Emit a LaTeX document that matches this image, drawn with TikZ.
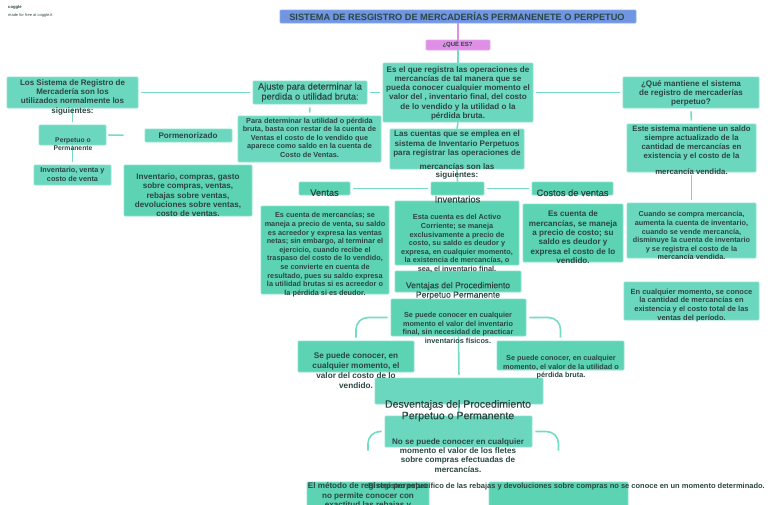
\documentclass[tikz,border=0pt]{standalone}
\usepackage{fontspec}
\setmainfont{Liberation Sans}
\newfontfamily\medio[FakeBold=0.25]{Liberation Sans}
\usepackage{xcolor}
\usetikzlibrary{positioning}
\definecolor{tituloAzul}{HTML}{7095E2}
\definecolor{rosaQue}{HTML}{E08FE6}
\definecolor{cajaClara}{HTML}{6CD7BF}
\definecolor{cajaMedia}{HTML}{5CD3B2}
\definecolor{bordeCaja}{HTML}{8CE3CF}
\definecolor{lineaVerde}{HTML}{72DCC4}
\definecolor{tinta}{HTML}{2C4642}
\tikzset{
    caja/.style={fill=cajaClara, draw=bordeCaja, line width=0.6pt, inner sep=0pt, rounded corners=0.8pt},
    cajam/.style={caja, fill=cajaMedia},
    liga/.style={lineaVerde, line width=1.6pt, shorten >=3pt, shorten <=3pt},
    txtA/.style={text=tinta, align=center, inner sep=0pt, yshift=-1.2pt, font=\medio\fontsize{9.3}{10}\selectfont},
    txtB/.style={text=tinta, align=center, inner sep=0pt, yshift=-1.2pt, font=\bfseries\fontsize{8.1}{9.3}\selectfont},
    txtC/.style={text=tinta, align=center, inner sep=0pt, yshift=-1.2pt, font=\bfseries\fontsize{7.3}{8.6}\selectfont},
}
\begin{document}
\begin{tikzpicture}[x=1pt,y=-1pt]
    \useasboundingbox (0,0) rectangle (768,504);
    % Cabecera
    \node[caja, fill=tituloAzul, draw=tituloAzul!80!white, minimum width=356pt, minimum height=13pt] (titulo) at (458,16.5) {};
    \node[caja, fill=rosaQue, draw=rosaQue!80!white, minimum width=64pt, minimum height=10pt] (que) at (458,45) {};

    % Columna izquierda
    \node[caja, minimum width=131pt, minimum height=31pt] (losSistema) at (72.5,92.5) {};
    \node[caja, minimum width=67pt, minimum height=20pt] (perpetuo) at (72.5,135) {};
    \node[caja, minimum width=87pt, minimum height=13pt] (pormenor) at (188.5,135.5) {};
    \node[caja, minimum width=77pt, minimum height=20pt] (invVenta) at (72.5,175) {};
    \node[cajam, minimum width=128pt, minimum height=51pt] (invCompras) at (188,190.5) {};

    % Columna central
    \node[caja, minimum width=114pt, minimum height=23pt] (ajuste) at (310,92.5) {};
    \node[caja, minimum width=143pt, minimum height=46pt] (paraDet) at (309.5,139) {};
    \node[caja, minimum width=150pt, minimum height=59pt] (esElQue) at (458,92.5) {};
    \node[caja, minimum width=134pt, minimum height=40pt] (lasCuentas) at (457,149) {};
    \node[cajam, minimum width=51pt, minimum height=13pt] (ventas) at (324.5,188.5) {};
    \node[cajam, minimum width=53pt, minimum height=13pt] (inventarios) at (457.5,188.5) {};
    \node[cajam, minimum width=81pt, minimum height=13pt] (costos) at (572.5,188.5) {};
    \node[cajam, minimum width=128pt, minimum height=88pt] (ctaVentas) at (325,250) {};
    \node[cajam, minimum width=124pt, minimum height=64pt] (ctaInv) at (457,233) {};
    \node[cajam, minimum width=100pt, minimum height=58pt] (ctaCostos) at (573,233) {};
    \node[cajam, minimum width=126pt, minimum height=21pt] (ventajas) at (458,281.5) {};
    \node[cajam, minimum width=135pt, minimum height=37pt] (sePuede) at (458.5,317.5) {};
    \node[cajam, minimum width=116pt, minimum height=31pt] (seIzq) at (356,356.5) {};
    \node[cajam, minimum width=127pt, minimum height=29pt] (seDer) at (560.5,355.5) {};
    \node[caja, minimum width=168pt, minimum height=26pt] (desventajas) at (459,391) {};
    \node[caja, minimum width=147pt, minimum height=31pt] (noSe) at (458.5,431.5) {};
    \node[cajam, minimum width=122pt, minimum height=30pt] (metodo) at (368,497) {};
    \node[cajam, minimum width=139pt, minimum height=30pt] (rebajas) at (558.5,497) {};

    % Columna derecha
    \node[caja, minimum width=136pt, minimum height=31pt] (mantiene) at (691,92.5) {};
    \node[caja, minimum width=129pt, minimum height=48pt] (saldo) at (691.5,148) {};
    \node[caja, minimum width=129pt, minimum height=55pt] (cuando) at (691.5,230.5) {};
    \node[caja, minimum width=135pt, minimum height=38pt] (enCualquier) at (691.5,301) {};

    % Conectores
    \draw[rosaQue, line width=1.8pt] (titulo.south) -- (que.north);
    \draw[liga, shorten <=0pt, shorten >=0pt] (que.south) -- (esElQue.north);
    \draw[liga] (losSistema.east) -- (ajuste.west);
    \draw[liga] (ajuste.east) -- (esElQue.west);
    \draw[liga] (esElQue.east) -- (mantiene.west);
    \draw[liga] (ajuste.south) -- (paraDet.north);
    \draw[liga, shorten <=0pt, shorten >=0pt] (esElQue.south) -- (lasCuentas.north);
    \draw[liga, shorten <=0pt, shorten >=0pt] (lasCuentas.south) -- (inventarios.north);
    \draw[liga] (ventas.east) -- (inventarios.west);
    \draw[liga] (inventarios.east) -- (costos.west);
    \draw[liga, shorten <=0pt] (losSistema.south) -- (perpetuo.north);
    \draw[liga, shorten <=2pt, shorten >=21pt] (perpetuo.east) -- (pormenor.west);
    \draw[liga, shorten <=0pt] (perpetuo.south) -- (invVenta.north);
    \draw[liga] (mantiene.south) -- (saldo.north);
    \draw[liga] (saldo.south) -- (cuando.north);
    \draw[liga, rounded corners=12pt] (sePuede.west) -| (seIzq.north);
    \draw[liga, rounded corners=12pt] (sePuede.east) -| (seDer.north);
    \draw[liga, shorten <=0pt] (sePuede.south) -- (desventajas.north);
    \draw[liga, shorten <=0pt, shorten >=0pt] (desventajas.south) -- (noSe.north);
    \draw[liga, rounded corners=12pt, shorten >=31pt] (noSe.west) -| (metodo.north);
    \draw[liga, rounded corners=12pt, shorten >=31pt] (noSe.east) -| (rebajas.north);

    % Textos
    \node[text=tinta, anchor=west, inner sep=0pt, font=\bfseries\fontsize{4.2}{5}\selectfont] (coggle) at (8,7) {coggle};
    \node[text=tinta, anchor=west, inner sep=0pt, font=\fontsize{4}{5}\selectfont] (hecho) at (8,15) {made for free at coggle.it};
    \node[text=tinta, font=\bfseries\fontsize{9.2}{10}\selectfont] (tituloTxt) at (457,16) {SISTEMA DE RESGISTRO DE MERCADERÍAS PERMANENETE O PERPETUO};
    \node[text=tinta, font=\bfseries\fontsize{6}{7}\selectfont] (queTxt) at (457.5,44.5) {¿QUÉ ES?};

    \node[txtB, font=\bfseries\fontsize{8}{9.4}\selectfont] (losTxt) at (72.5,96) {Los Sistema de Registro de\\Mercadería son los\\utilizados normalmente los\\siguientes:};
    \node[txtC, font=\bfseries\fontsize{6.8}{8.4}\selectfont] (perpTxt) at (73,143) {Perpetuo o\\Permanente};
    \node[txtB] (porTxt) at (188,134.5) {Pormenorizado};
    \node[txtC] (venTxt) at (72.5,173) {Inventario, venta y\\costo de venta};
    \node[txtB] (comTxt) at (188,194) {Inventario, compras, gasto\\sobre compras, ventas,\\rebajas sobre ventas,\\devoluciones sobre ventas,\\costo de ventas.};

    \node[txtA] (ajuTxt) at (310,91) {Ajuste para determinar la\\perdida o utilidad bruta:};
    \node[txtC] (parTxt) at (309.5,136.5) {Para determinar la utilidad o pérdida\\bruta, basta con restar de la cuenta de\\Ventas el costo de lo vendido que\\aparece como saldo en la cuenta de\\Costo de Ventas.};
    \node[txtB] (esTxt) at (458,92) {Es el que registra las operaciones de\\mercancías de tal manera que se\\pueda conocer cualquier momento el\\valor del , inventario final, del costo\\de lo vendido y la utilidad o la\\pérdida bruta.};
    \node[txtB] (lasTxt) at (457,143) {Las cuentas que se emplea en el\\sistema de Inventario Perpetuos\\para registrar las operaciones de};
    \node[txtB, font=\bfseries\fontsize{8.1}{8}\selectfont] (lasTxtB) at (457,170.5) {mercancías son las\\siguientes:};

    \node[txtA] (ventasTxt) at (324.5,191.5) {Ventas};
    \node[txtA] (invTxt) at (457.5,198) {Inventarios};
    \node[txtA] (cosTxt) at (572.5,191.5) {Costos de ventas};
    \node[txtC] (ctaVenTxt) at (325,253.5) {Es cuenta de mercancías; se\\maneja a precio de venta, su saldo\\es acreedor y expresa las ventas\\netas; sin embargo, al terminar el\\ejercicio, cuando recibe el\\traspaso del costo de lo vendido,\\se convierte en cuenta de\\resultado, pues su saldo expresa\\la utilidad brutas si es acreedor o\\la pérdida si es deudor.};
    \node[txtC] (ctaInvTxt) at (457,242.5) {Esta cuenta es del Activo\\Corriente; se maneja\\exclusivamente a precio de\\costo, su saldo es deudor y\\expresa, en cualquier momento,\\la existencia de mercancías, o\\sea, el inventario final.};
    \node[txtB] (ctaCosTxt) at (573,236) {Es cuenta de\\mercancías, se maneja\\a precio de costo; su\\saldo es deudor y\\expresa el costo de lo\\vendido.};
    \node[txtA, font=\medio\fontsize{8.6}{9.4}\selectfont] (venjTxt) at (458,289.5) {Ventajas del Procedimiento\\Perpetuo Permanente};
    \node[txtC] (sePTxt) at (458,326.5) {Se puede conocer en cualquier\\momento el valor del inventario\\final, sin necesidad de practicar\\inventarios físicos.};
    \node[txtB, font=\bfseries\fontsize{8.2}{9.8}\selectfont] (seITxt) at (356,369.5) {Se puede conocer, en\\cualquier momento, el\\valor del costo de lo\\vendido.};
    \node[txtC] (seDTxt) at (561,366) {Se puede conocer, en cualquier\\momento, el valor de la utilidad o\\pérdida bruta.};
    \node[txtA, font=\medio\fontsize{10.6}{11.5}\selectfont] (desTxt) at (458,409.5) {Desventajas del Procedimiento\\Perpetuo o Permanente};
    \node[txtB] (noTxt) at (458,454) {No se puede conocer en cualquier\\momento el valor de los fletes\\sobre compras efectuadas de\\mercancías.};
    \node[txtB, anchor=north] (metTxt) at (368,481.5) {El método de registro perpetuo\\no permite conocer con\\exactitud las rebajas y};
    \node[txtC, font=\bfseries\fontsize{7.5}{8.6}\selectfont, anchor=east] (rebTxt) at (765,485) {El registro específico de las rebajas y devoluciones sobre compras no se conoce en un momento determinado.};

    \node[txtB] (manTxt) at (691,92) {¿Qué mantiene el sistema\\de registro de mercaderías\\perpetuo?};
    \node[txtB, font=\bfseries\fontsize{7.8}{9.1}\selectfont] (salTxt) at (691.5,142) {Este sistema mantiene un saldo\\siempre actualizado de la\\cantidad de mercancías en\\existencia y el costo de la};
    \node[txtB, font=\bfseries\fontsize{7.8}{9.1}\selectfont] (salTxtB) at (691.5,170) {mercancía vendida.};
    \node[txtC] (cuaTxt) at (691.5,234.5) {Cuando se compra mercancía,\\aumenta la cuenta de inventario,\\cuando se vende mercancía,\\disminuye la cuenta de inventario\\y se registra el costo de la\\mercancía vendida.};
    \node[txtC, font=\bfseries\fontsize{7.5}{8.6}\selectfont] (enTxt) at (691.5,304) {En cualquier momento, se conoce\\la cantidad de mercancías en\\existencia y el costo total de las\\ventas del período.};
\end{tikzpicture}
\end{document}
